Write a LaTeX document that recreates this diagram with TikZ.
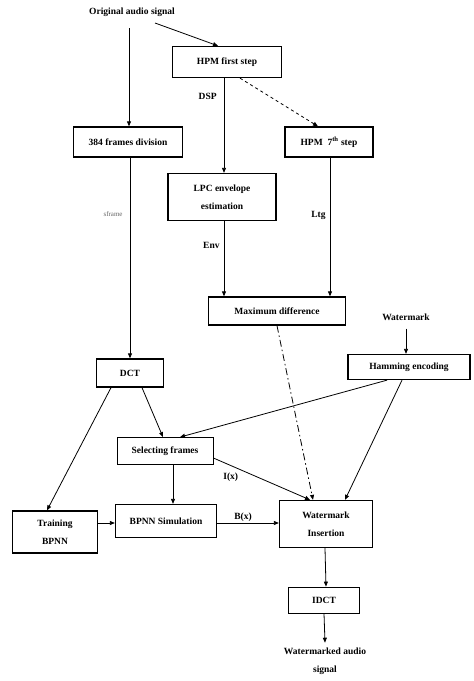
\documentclass[tikz,border=0pt]{standalone}
\usepackage{fontspec}
\setmainfont{Liberation Serif}
\usetikzlibrary{arrows.meta}

\begin{document}
\begin{tikzpicture}[x=1pt, y=-1pt,
    font=\fontsize{9.5}{11.5}\selectfont\bfseries,
    every node/.style={inner sep=0pt, align=center},
    box/.style    = {draw, line width=1.3pt, minimum width=#1},
    thinbox/.style= {draw, line width=0.8pt, minimum width=#1},
    link/.style   = {line width=0.8pt, -{Triangle[length=5pt,width=4pt]}},
  ]
  \useasboundingbox (0,0) rectangle (474,681);

  % top part
  \node(orig) at (132,12) {Original audio signal};
  \node[box=109pt, minimum height=31pt](hpm1) at (227,62) {HPM first step};
  \node[box=109pt, minimum height=30pt](frames) at (128,142) {384 frames division};
  \node[box=88pt, minimum height=30pt](hpm7) at (329,142) {HPM\ \ 7\textsuperscript{th} step};
  \node[box=108pt, minimum height=47pt](lpc) at (222,197) {LPC envelope\\[6pt]estimation};
  \node[box=137pt, minimum height=28pt](maxdiff) at (277,311) {Maximum difference};

  % watermark branch
  \node(wm) at (406,317) {Watermark};
  \node[box=122pt, minimum height=25pt](hamming) at (409,367) {Hamming encoding};

  % bottom part
  \node[box=67pt, minimum height=28pt](dct) at (130,373) {DCT};
  \node[thinbox=96pt, minimum height=27pt](select) at (165,451) {Selecting frames};
  \node[box=85pt, minimum height=42pt](train) at (55,532) {Training\\[6pt]BPNN};
  \node[box=101pt, minimum height=33pt](bpnn) at (166,521) {BPNN Simulation};
  \node[box=93pt, minimum height=47pt](wmi) at (326,524) {Watermark\\[6pt]Insertion};
  \node[thinbox=71pt, minimum height=26pt](idct) at (324,600) {IDCT};
  \node(out) at (325,661) {Watermarked audio\\[6pt]signal};
  \coordinate(o1) at (129,28);
  \coordinate(o2) at (155,23);

  % connectors
  \draw[link] (o1) -- (o1 |- frames.north);
  \draw[link] (o2) -- ([xshift=-9pt]hpm1.north);
  \draw[link] ([xshift=-3pt]hpm1.south) -- node[left=7pt, pos=0.19]{DSP} ([xshift=2pt]lpc.north);
  \draw[link, dashed] ([xshift=13pt]hpm1.south) -- ([xshift=-11pt]hpm7.north);
  \draw[link] ([xshift=2pt]frames.south) -- node[left=7pt, pos=0.28, font=\fontsize{7}{8}\selectfont, text=black!60]{sframe} (dct.north);
  \draw[link] ([xshift=2pt]lpc.south) -- node[left=4pt, pos=0.32]{Env} ([xshift=-53pt]maxdiff.north);
  \draw[link] ([xshift=1pt]hpm7.south) -- node[left=4pt, pos=0.42]{Ltg} ([xshift=53pt]maxdiff.north);
  \draw[link] ([yshift=-8pt]wm.south) -- (hamming.north -| wm.south);
  \draw[link, dash pattern=on 7pt off 3pt on 1.5pt off 3pt] (maxdiff.south) -- ([xshift=-13pt]wmi.north);
  \draw[link] ([xshift=-19pt]dct.south) -- ([xshift=-8pt]train.north);
  \draw[link] ([xshift=12pt]dct.south) -- ([xshift=-2pt]select.north);
  \draw[link] ([xshift=-22pt]hamming.south) -- ([xshift=15pt]select.north);
  \draw[link] ([xshift=-7pt]hamming.south) -- ([xshift=19pt]wmi.north);
  \draw[link] ([xshift=8pt]select.south) -- ([xshift=7pt]bpnn.north);
  \draw[link] ([yshift=-7pt]select.east) -- node[below=6pt, xshift=-2pt, pos=0.2]{I(x)} ([xshift=-16pt]wmi.north);
  \draw[link] ([yshift=9pt]train.east) -- ([yshift=-2pt]bpnn.west);
  \draw[link] ([yshift=-2pt]bpnn.east) -- node[above=1pt, pos=0.42]{B(x)} ([yshift=1pt]wmi.west);
  \draw[link] ([xshift=-1pt]wmi.south) -- (idct.north -| wmi.south);
  \draw[link] (idct.south) -- ([yshift=5pt]out.north);
\end{tikzpicture}
\end{document}
